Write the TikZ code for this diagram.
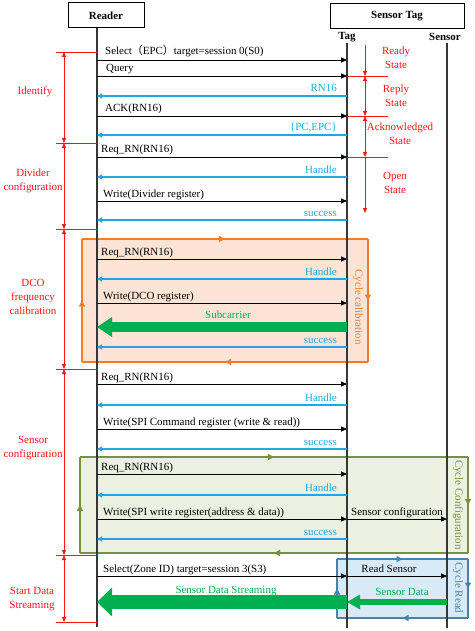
\documentclass[tikz,border=0pt,11pt]{standalone}
\usepackage{fontspec}
\setmainfont{Liberation Serif}
\newfontfamily\cjk{Noto Sans CJK SC}
\usetikzlibrary{arrows.meta,decorations.markings}

\definecolor{phasered}{RGB}{255,20,20}
\definecolor{replyblue}{RGB}{31,168,224}
\definecolor{datagreen}{RGB}{0,176,80}
\definecolor{calorange}{RGB}{237,125,49}
\definecolor{calfill}{RGB}{251,228,213}
\definecolor{cfgolive}{RGB}{118,146,60}
\definecolor{cfgfill}{RGB}{236,240,225}
\definecolor{readblue}{RGB}{70,130,170}
\definecolor{readfill}{RGB}{216,234,246}
\definecolor{lifegray}{RGB}{55,55,55}

\tikzset{
  headbox/.style={draw, line width=1pt, minimum height=25pt, font=\bfseries},
  life/.style={draw=lifegray, line width=1.2pt},
  cmd/.style={line width=0.9pt, -{Triangle[length=6pt,width=5pt]}},
  reply/.style={replyblue, line width=1.4pt, -{Triangle[length=5pt,width=5pt]}},
  bulk/.style={datagreen},
  cmdlbl/.style={anchor=base west, inner sep=0pt},
  replylbl/.style={anchor=base east, inner sep=0pt, text=replyblue},
  phase/.style={phasered, line width=0.9pt},
  phaselbl/.style={text=phasered, align=center, inner sep=0pt},
  midarrow/.style={postaction={decorate, decoration={markings,
      mark=at position 0.5 with {\arrow{Triangle[length=6pt,width=6pt]}}}}},
  cycleedge/.style={line width=1.5pt, midarrow}
}

\begin{document}
\begin{tikzpicture}[x=1pt, y=-1pt]
\useasboundingbox (0,0) rectangle (474,631);
% cycle boxes
\coordinate (calNW) at (82,239);  \coordinate (calNE) at (368,239);
\coordinate (calSE) at (368,362); \coordinate (calSW) at (82,362);
\fill[calfill] (calNW) rectangle (calSE);
\draw[calorange, cycleedge] (calNW) -- (calNE);
\draw[calorange, cycleedge] (calNE) -- (calSE);
\draw[calorange, cycleedge] (calSE) -- (calSW);
\draw[calorange, cycleedge] (calSW) -- (calNW);
\coordinate (cfgNW) at (80,457);  \coordinate (cfgNE) at (468,457);
\coordinate (cfgSE) at (468,553); \coordinate (cfgSW) at (80,553);
\fill[cfgfill] (cfgNW) rectangle (cfgSE);
\draw[cfgolive, cycleedge] (cfgNW) -- (cfgNE);
\draw[cfgolive, cycleedge] (cfgNE) -- (cfgSE);
\draw[cfgolive, cycleedge] (cfgSE) -- (cfgSW);
\draw[cfgolive, cycleedge] (cfgSW) -- (cfgNW);
\coordinate (rdNW) at (337,559);  \coordinate (rdNE) at (468,559);
\coordinate (rdSE) at (468,618);  \coordinate (rdSW) at (337,618);
\fill[readfill] (rdNW) rectangle (rdSE);
\draw[readblue, cycleedge] (rdNW) -- (rdNE);
\draw[readblue, cycleedge] (rdNE) -- (rdSE);
\draw[readblue, cycleedge] (rdSE) -- (rdSW);
\draw[readblue, cycleedge] (rdSW) -- (rdNW);
\node[rotate=-90, text=calorange] (calname) at (358,307) {Cycle calibration};
\node[rotate=-90, text=cfgolive]  (cfgname) at (458,505) {Cycle Configuration};
\node[rotate=-90, text=readblue]  (rdname)  at (458,588) {Cycle Read};
% heads and lifelines
\node[headbox, minimum width=76pt]  (reader)    at (106,15.5) {Reader};
\node[headbox, minimum width=134pt] (sensortag) at (397,16.5) {Sensor Tag};
\node[font=\bfseries] (taglbl)    at (347,37) {Tag};
\node[font=\bfseries] (sensorlbl) at (445,37) {Sensor};
\coordinate (rtop) at (97,28);  \coordinate (rbot) at (97,627);
\coordinate (ttop) at (347,43); \coordinate (tbot) at (347,628);
\coordinate (stop) at (447,43); \coordinate (sbot) at (447,628);
\draw[life] (rtop) -- (rbot);
\draw[life] (ttop) -- (tbot);
\draw[life] (stop) -- (sbot);
% identify
\coordinate (r1) at (97,60);  \coordinate (t1) at (347,60);
\coordinate (r2) at (97,76);  \coordinate (t2) at (347,76);
\coordinate (r3) at (97,96);  \coordinate (t3) at (347,96);
\coordinate (r4) at (97,116); \coordinate (t4) at (347,116);
\coordinate (r5) at (97,135); \coordinate (t5) at (347,135);
\draw[cmd]   (r1) -- (t1);
\draw[cmd]   (r2) -- (t2);
\draw[reply] (t3) -- (r3);
\draw[cmd]   (r4) -- (t4);
\draw[reply] (t5) -- (r5);
\node[cmdlbl]   (m1) at ([xshift=8,yshift=5]r1)   {Select{\cjk （}EPC{\cjk ）}target=session 0(S0)};
\node[cmdlbl]   (m2) at ([xshift=9,yshift=4]r2)   {Query};
\node[replylbl] (m3) at ([xshift=-10,yshift=4]t3) {RN16};
\node[cmdlbl]   (m4) at ([xshift=8,yshift=4]r4)   {ACK(RN16)};
\node[replylbl] (m5) at ([xshift=-10,yshift=4]t5) {\{PC,EPC\}};
% divider configuration
\coordinate (r6) at (97,157); \coordinate (t6) at (347,157);
\coordinate (r7) at (97,177); \coordinate (t7) at (347,177);
\coordinate (r8) at (97,201); \coordinate (t8) at (347,201);
\coordinate (r9) at (97,220); \coordinate (t9) at (347,220);
\draw[cmd]   (r6) -- (t6);
\draw[reply] (t7) -- (r7);
\draw[cmd]   (r8) -- (t8);
\draw[reply] (t9) -- (r9);
\node[cmdlbl]   (m6) at ([xshift=4,yshift=4]r6)   {Req\_RN(RN16)};
\node[replylbl] (m7) at ([xshift=-10,yshift=4]t7) {Handle};
\node[cmdlbl]   (m8) at ([xshift=6,yshift=4]r8)   {Write(Divider register)};
\node[replylbl] (m9) at ([xshift=-10,yshift=4]t9) {success};
% DCO frequency calibration
\coordinate (r10) at (97,259); \coordinate (t10) at (347,259);
\coordinate (r11) at (97,279); \coordinate (t11) at (347,279);
\coordinate (r12) at (97,303); \coordinate (t12) at (347,303);
\coordinate (r13) at (97,327); \coordinate (t13) at (347,327);
\coordinate (r14) at (97,347); \coordinate (t14) at (347,347);
\draw[cmd]   (r10) -- (t10);
\draw[reply] (t11) -- (r11);
\draw[cmd]   (r12) -- (t12);
\draw[bulk, line width=10pt, -{Triangle[length=15pt,width=19pt]}] (t13) -- (r13);
\draw[reply] (t14) -- (r14);
\node[cmdlbl]   (m10) at ([xshift=4,yshift=4]r10)   {Req\_RN(RN16)};
\node[replylbl] (m11) at ([xshift=-10,yshift=4]t11) {Handle};
\node[cmdlbl]   (m12) at ([xshift=6,yshift=4]r12)   {Write(DCO register)};
\node[anchor=base, text=datagreen] (m13) at (228,318) {Subcarrier};
\node[replylbl] (m14) at ([xshift=-10,yshift=4]t14) {success};
% sensor configuration
\coordinate (r15) at (97,384); \coordinate (t15) at (347,384);
\coordinate (r16) at (97,405); \coordinate (t16) at (347,405);
\coordinate (r17) at (97,429); \coordinate (t17) at (347,429);
\coordinate (r18) at (97,449); \coordinate (t18) at (347,449);
\coordinate (r19) at (97,474); \coordinate (t19) at (347,474);
\coordinate (r20) at (97,495); \coordinate (t20) at (347,495);
\coordinate (r21) at (97,519); \coordinate (t21) at (347,519); \coordinate (s21) at (447,519);
\coordinate (r22) at (97,539); \coordinate (t22) at (347,539);
\draw[cmd]   (r15) -- (t15);
\draw[reply] (t16) -- (r16);
\draw[cmd]   (r17) -- (t17);
\draw[reply] (t18) -- (r18);
\draw[cmd]   (r19) -- (t19);
\draw[reply] (t20) -- (r20);
\draw[cmd]   (r21) -- (t21);
\draw[cmd]   (t21) -- (s21);
\draw[reply] (t22) -- (r22);
\node[cmdlbl]   (m15) at ([xshift=4,yshift=4]r15)   {Req\_RN(RN16)};
\node[replylbl] (m16) at ([xshift=-10,yshift=4]t16) {Handle};
\node[cmdlbl]   (m17) at ([xshift=6,yshift=4]r17)   {Write(SPI Command register (write \& read))};
\node[replylbl] (m18) at ([xshift=-10,yshift=4]t18) {success};
\node[cmdlbl]   (m19) at ([xshift=4,yshift=4]r19)   {Req\_RN(RN16)};
\node[replylbl] (m20) at ([xshift=-10,yshift=4]t20) {Handle};
\node[cmdlbl]   (m21) at ([xshift=6,yshift=4]r21)   {Write(SPI write register(address \& data))};
\node[anchor=base] (m21s) at (397,515) {Sensor configuration};
\node[replylbl] (m22) at ([xshift=-10,yshift=4]t22) {success};
% start data streaming
\coordinate (r23) at (97,576); \coordinate (t23) at (347,576); \coordinate (s23) at (447,576);
\coordinate (r24) at (97,602); \coordinate (t24) at (347,602); \coordinate (s24) at (447,602);
\draw[cmd] (r23) -- (t23);
\draw[cmd] (t23) -- (s23);
\draw[bulk, line width=14pt, -{Triangle[length=15pt,width=28pt]}] (t24) -- (r24);
\draw[bulk, line width=6pt, -{Triangle[length=13pt,width=14pt]}] (s24) -- (t24);
\node[cmdlbl] (m23) at ([xshift=6,yshift=4]r23) {Select(Zone ID) target=session 3(S3)};
\node[anchor=base] (m23s) at (389,572) {Read Sensor};
\node[anchor=base, text=datagreen] (m24) at (226,593) {Sensor Data Streaming};
\node[anchor=base, text=datagreen] (m24s) at (402,595) {Sensor Data};
% phases on the reader side
\coordinate (k0) at (64,52);  \coordinate (k1) at (64,143);
\coordinate (k2) at (64,229); \coordinate (k3) at (64,369);
\coordinate (k4) at (64,555); \coordinate (k5) at (64,622);
\foreach \k in {k0,k1,k2,k3,k4,k5}
  \draw[phase] ([xshift=-8]\k) -- ([xshift=33]\k);
\draw[phase, {Triangle[length=5pt,width=4pt]}-{Triangle[length=5pt,width=4pt]}] (k0) -- (k1);
\draw[phase, {Triangle[length=5pt,width=4pt]}-{Triangle[length=5pt,width=4pt]}] (k1) -- (k2);
\draw[phase, {Triangle[length=5pt,width=4pt]}-{Triangle[length=5pt,width=4pt]}] (k2) -- (k3);
\draw[phase, {Triangle[length=5pt,width=4pt]}-{Triangle[length=5pt,width=4pt]}] (k3) -- (k4);
\draw[phase, {Triangle[length=5pt,width=4pt]}-{Triangle[length=5pt,width=4pt]}] (k4) -- (k5);
\node[phaselbl] (identify) at (35,92)  {Identify};
\node[phaselbl] (divider)  at (33,181) {Divider\\configuration};
\node[phaselbl] (dco)      at (33,297) {DCO\\frequency\\calibration};
\node[phaselbl] (sensorcfg) at (33,448) {Sensor\\configuration};
\node[phaselbl] (streaming) at (32,599) {Start Data\\Streaming};
% tag states
\coordinate (s0) at (365,45);  \coordinate (s1) at (365,76);
\coordinate (s2) at (365,116); \coordinate (s3) at (365,157);
\coordinate (s4) at (365,213);
\foreach \k in {s1,s2,s3}
  \draw[phase] ([xshift=-18]\k) -- ([xshift=23]\k);
\draw[phase, -{Triangle[length=5pt,width=4pt]}] (s0) -- (s1);
\draw[phase, {Triangle[length=5pt,width=4pt]}-{Triangle[length=5pt,width=4pt]}] (s1) -- (s2);
\draw[phase, {Triangle[length=5pt,width=4pt]}-{Triangle[length=5pt,width=4pt]}] (s2) -- (s3);
\draw[phase, -{Triangle[length=5pt,width=4pt]}] (s3) -- (s4);
\node[phaselbl] (ready) at (396,58)  {Ready\\State};
\node[phaselbl] (reply) at (396,96)  {Reply\\State};
\node[phaselbl] (ack)   at (400,134) {Acknowledged\\State};
\node[phaselbl] (open)  at (395,183) {Open\\State};
\end{tikzpicture}
\end{document}
